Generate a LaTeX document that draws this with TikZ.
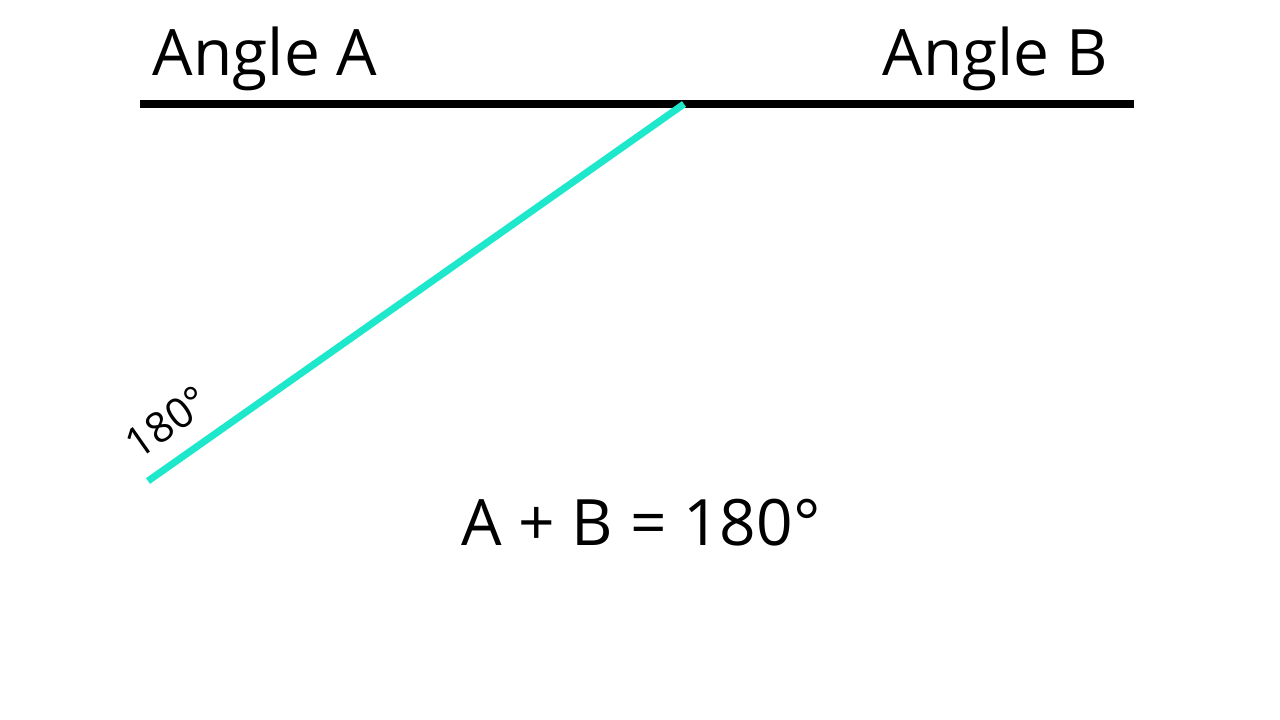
\documentclass[tikz,border=0pt]{standalone}
\usepackage{fontspec}
\setmainfont{Open Sans}
\definecolor{cyanline}{RGB}{30,232,204}
\begin{document}
\begin{tikzpicture}[x=1pt,y=-1pt,
  lbl/.style={inner sep=0pt,anchor=base,font=\fontsize{64}{70}\selectfont},
  small/.style={inner sep=0pt,font=\fontsize{42}{46}\selectfont}]
\useasboundingbox[fill=white] (0,0) rectangle (1280,720);
\coordinate (hl) at (140,104);
\coordinate (hr) at (1134,104);
\coordinate (top) at (684,104);
\coordinate (bot) at (148,481);
\draw[line width=8pt] (hl) -- (hr);
\draw[cyanline,line width=7pt] (bot) -- (top);
\node[lbl] (a) at (265,75) {Angle A};
\node[lbl] (b) at (995,75) {Angle B};
\node[lbl] (eq) at (641,545) {A + B = 180°};
\node[small,rotate=35.1] (deg) at (167,422) {180°};
\end{tikzpicture}
\end{document}
